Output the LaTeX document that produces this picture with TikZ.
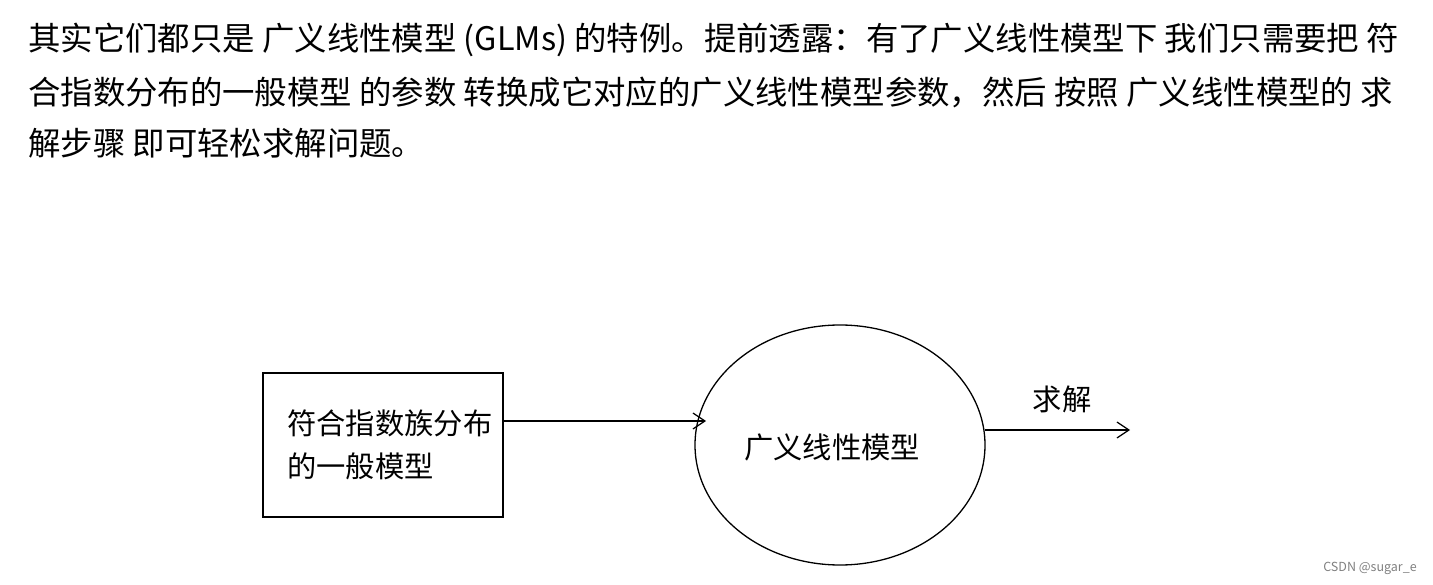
\documentclass[tikz,border=0pt]{standalone}
\usepackage{fontspec}
\setmainfont{Noto Sans CJK SC}
\usetikzlibrary{arrows.meta,shapes.geometric}
\begin{document}
\begin{tikzpicture}[x=1pt,y=-1pt,
  para/.style={anchor=west,inner sep=0pt,font=\fontsize{32.4}{36}\selectfont},
  lab/.style={anchor=west,inner sep=0pt,font=\fontsize{29.3}{32}\selectfont},
  conn/.style={line width=1.2pt,-{Straight Barb[length=12pt,width=16pt]}}]
\useasboundingbox (0,0) rectangle (1433,585);
\node[para] (l1) at (28,40) {其实它们都只是 广义线性模型 (GLMs) 的特例。提前透露：有了广义线性模型下 我们只需要把 符};
\node[para] (l2) at (28,92) {合指数分布的一般模型 的参数 转换成它对应的广义线性模型参数，然后 按照 广义线性模型的 求};
\node[para] (l3) at (28,143) {解步骤 即可轻松求解问题。};
\draw[line width=1.3pt] (263,373) rectangle (503,517);
\coordinate (boxr) at (503,421);
\node[lab] (t1) at (287,423) {符合指数族分布};
\node[lab] (t2) at (287,466) {的一般模型};
\node[draw,line width=1.3pt,ellipse,minimum width=290pt,minimum height=240pt,inner sep=0pt] (e) at (840,445) {};
\node[lab] (t3) at (744,447) {广义线性模型};
\coordinate (ein) at (706,421);
\draw[conn] (boxr) -- (ein);
\coordinate (eout) at (985,430);
\coordinate (end) at (1130,430);
\draw[conn] (eout) -- (end);
\node[lab,anchor=center] (t4) at (1062,399) {求解};
\node[anchor=center,inner sep=0pt,text=gray,font=\fontsize{12.5}{14}\selectfont] (wm) at (1370,568) {CSDN @sugar\_e};
\end{tikzpicture}
\end{document}
